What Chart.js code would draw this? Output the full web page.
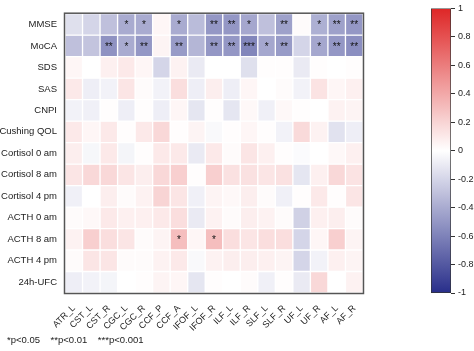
<!DOCTYPE html>
<html>
<head>
<meta charset="utf-8">
<script src="https://cdn.jsdelivr.net/npm/chart.js@4.4.1/dist/chart.umd.min.js"></script>
<style>
  body { margin: 0; background: #fff; width: 474px; height: 351px; overflow: hidden; position: relative; font-family: "Liberation Sans", Arial, sans-serif; }
  #heat { position: absolute; left: 0; top: 0; }
  #bar { position: absolute; left: 415px; top: 0; }
  #note { position: absolute; left: 7px; top: 334px; font-size: 9.5px; color: #222; white-space: pre; }
</style>
</head>
<body>
<canvas id="heat" width="372" height="340"></canvas>
<canvas id="bar" width="59" height="351"></canvas>
<div id="note">*p&lt;0.05    **p&lt;0.01    ***p&lt;0.001</div>
<script>
// rows (clinical measures) and columns (white matter tracts)
const rowLabels = ["MMSE", "MoCA", "SDS", "SAS", "CNPI", "Cushing QOL", "Cortisol 0 am",
  "Cortisol 8 am", "Cortisol 4 pm", "ACTH 0 am", "ACTH 8 am", "ACTH 4 pm", "24h-UFC"];
const colLabels = ["ATR_L", "CST_L", "CST_R", "CGC_L", "CGC_R", "CCF_P", "CCF_A", "IFOF_L",
  "IFOF_R", "ILF_L", "ILF_R", "SLF_L", "SLF_R", "UF_L", "UF_R", "AF_L", "AF_R"];

// correlation values, one array per row
const mmse = [-0.15, -0.2, -0.3, -0.4, -0.4, 0.04, -0.4, -0.32, -0.5, -0.5, -0.42, -0.3, -0.45, 0.02, -0.38, -0.45, -0.5];
const moca = [-0.3, -0.28, -0.52, -0.4, -0.5, 0.05, -0.48, -0.35, -0.5, -0.5, -0.58, -0.42, -0.48, -0.2, -0.42, -0.5, -0.54];
const sds = [0.04, 0.0, 0.07, 0.1, 0.04, -0.2, 0.06, -0.1, 0.0, 0.0, -0.15, 0.01, 0.01, -0.1, 0.01, 0.0, 0.01];
const sas = [0.1, -0.08, -0.06, 0.12, 0.02, -0.06, 0.15, -0.08, 0.08, -0.08, 0.04, 0.0, 0.02, -0.06, 0.13, 0.04, 0.07];
const cnpi = [-0.06, -0.07, 0.01, -0.08, 0.01, -0.08, 0.04, -0.12, 0.01, -0.12, 0.03, -0.07, 0.03, 0.01, 0.0, 0.06, 0.05];
const cushingQol = [0.1, 0.04, 0.1, 0.01, 0.1, 0.18, 0.01, 0.05, -0.03, 0.01, 0.04, 0.01, -0.06, 0.17, 0.06, -0.14, -0.08];
const cortisol0 = [0.08, -0.04, 0.1, -0.05, 0.01, 0.1, 0.1, -0.1, 0.1, 0.02, 0.12, 0.07, 0.01, -0.02, 0.0, 0.03, 0.07];
const cortisol8 = [0.12, 0.18, 0.18, 0.12, 0.08, 0.18, 0.22, 0.01, 0.22, 0.14, 0.14, 0.12, 0.14, -0.12, 0.07, 0.18, 0.13];
const cortisol4 = [-0.07, 0.0, 0.08, 0.02, 0.06, 0.2, 0.12, -0.07, 0.05, 0.03, 0.08, 0.02, -0.07, 0.01, 0.1, 0.01, 0.12];
const acth0 = [0.02, 0.03, 0.1, 0.07, 0.07, 0.1, 0.15, -0.1, 0.06, 0.02, 0.08, 0.06, 0.02, -0.22, 0.07, 0.08, 0.02];
const acth8 = [0.06, 0.22, 0.15, 0.12, 0.02, 0.05, 0.3, 0.04, 0.3, 0.15, 0.12, 0.15, 0.15, -0.2, 0.04, 0.22, 0.05];
const acth4 = [0.02, 0.12, 0.12, 0.02, 0.02, 0.06, 0.1, -0.03, 0.06, 0.08, 0.08, 0.07, 0.05, -0.2, -0.06, 0.07, 0.05];
const ufc24h = [-0.08, -0.06, -0.05, 0.0, 0.01, 0.05, 0.04, -0.12, 0.01, 0.0, 0.02, -0.07, 0.01, -0.1, 0.18, 0.0, 0.06];

// significance marks
const mmseSig = ["", "", "", "*", "*", "", "*", "", "**", "**", "*", "", "**", "", "*", "**", "**"];
const mocaSig = ["", "", "**", "*", "**", "", "**", "", "**", "**", "***", "*", "**", "", "*", "**", "**"];
const acth8Sig = ["", "", "", "", "", "", "*", "", "*", "", "", "", "", "", "", "", ""];

const values = [mmse, moca, sds, sas, cnpi, cushingQol, cortisol0, cortisol8, cortisol4, acth0, acth8, acth4, ufc24h];
const sigs = { 0: mmseSig, 1: mocaSig, 10: acth8Sig };

// colorbar ticks
const barMin = -1;
const barMax = 1;
const barStep = 0.2;

const posEnd = [222, 38, 38];
const negEnd = [40, 46, 138];

function colorFor(v) {
  const t = Math.min(1, Math.abs(v));
  const end = v >= 0 ? posEnd : negEnd;
  const c = end.map((e) => Math.round(255 + (e - 255) * t));
  return "rgb(" + c.join(",") + ")";
}

const font = "'Liberation Sans', Arial, sans-serif";

// one stacked dataset per row, each cell is a bar of height 1
const datasets = values.map((row, i) => ({
  label: rowLabels[i],
  data: row.map(() => 1),
  backgroundColor: row.map(colorFor),
  borderColor: "#ffffff",
  borderWidth: 1,
  borderSkipped: false,
  barPercentage: 1,
  categoryPercentage: 1,
}));

const cellMarks = {
  id: "cellMarks",
  afterDatasetsDraw(chart) {
    const ctx = chart.ctx;
    ctx.save();
    ctx.fillStyle = "#111";
    ctx.font = "10px " + font;
    ctx.textAlign = "center";
    ctx.textBaseline = "middle";
    Object.keys(sigs).forEach((r) => {
      const meta = chart.getDatasetMeta(Number(r));
      sigs[r].forEach((s, j) => {
        if (!s) return;
        const bar = meta.data[j];
        ctx.fillText(s, bar.x, (bar.y + bar.base) / 2 + 1);
      });
    });
    // frame
    const a = chart.chartArea;
    ctx.strokeStyle = "#555";
    ctx.lineWidth = 1.5;
    ctx.strokeRect(a.left - 0.5, a.top - 0.5, a.right - a.left + 1, a.bottom - a.top + 1);
    ctx.restore();
  },
};

new Chart(document.getElementById("heat"), {
  type: "bar",
  data: { labels: colLabels, datasets: datasets },
  options: {
    responsive: false,
    animation: false,
    events: [],
    layout: { padding: { top: 2, right: 5, left: 0, bottom: 0 } },
    plugins: { legend: { display: false }, tooltip: { enabled: false } },
    scales: {
      x: {
        stacked: true,
        grid: { display: false, drawTicks: false },
        border: { display: false },
        ticks: { color: "#222", font: { size: 9, family: font }, minRotation: 45, maxRotation: 45, padding: 10, autoSkip: false },
        afterFit(scale) { scale.height = 47; },
      },
      y: {
        stacked: true,
        reverse: true,
        min: 0,
        max: rowLabels.length,
        grid: { display: false, drawTicks: false },
        border: { display: false },
        afterBuildTicks(scale) { scale.ticks = rowLabels.map((_, i) => ({ value: i + 0.5 })); },
        ticks: { color: "#222", font: { size: 9.5, family: font }, padding: 8, callback: (v, i) => rowLabels[i] },
        afterFit(scale) { scale.width = 65; },
      },
    },
  },
  plugins: [cellMarks],
});

// colorbar
new Chart(document.getElementById("bar"), {
  type: "bar",
  data: {
    labels: [""],
    datasets: [{
      data: [[barMin, barMax]],
      backgroundColor(context) {
        const area = context.chart.chartArea;
        if (!area) return "#fff";
        const g = context.chart.ctx.createLinearGradient(0, area.bottom, 0, area.top);
        for (let k = 0; k <= 20; k++) {
          const v = barMin + (barMax - barMin) * k / 20;
          g.addColorStop(k / 20, colorFor(v));
        }
        return g;
      },
      borderColor: "#333",
      borderWidth: 1,
      borderSkipped: false,
      barPercentage: 1,
      categoryPercentage: 1,
    }],
  },
  options: {
    responsive: false,
    animation: false,
    events: [],
    layout: { padding: { top: 2, left: 16, right: 0, bottom: 58 } },
    plugins: { legend: { display: false }, tooltip: { enabled: false } },
    scales: {
      x: { display: false },
      y: {
        position: "right",
        min: barMin,
        max: barMax,
        grid: { display: true, drawOnChartArea: false, drawTicks: true, tickLength: 4, color: "#333" },
        border: { display: false },
        ticks: {
          stepSize: barStep, color: "#222", font: { size: 9, family: font }, padding: 3,
          callback: (v) => String(Number(v.toFixed(1))),
        },
        afterFit(scale) { scale.width = 23; },
      },
    },
  },
});
</script>
</body>
</html>
